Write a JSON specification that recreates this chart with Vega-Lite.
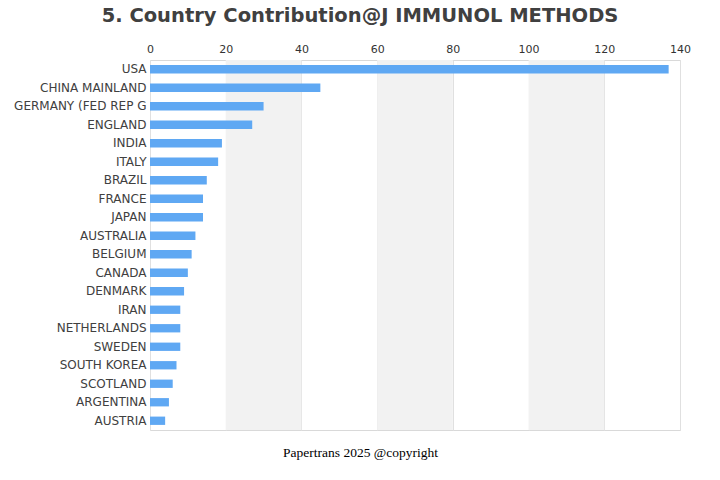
{
  "$schema": "https://vega.github.io/schema/vega-lite/v6.json",
  "autosize": "none",
  "width": 530,
  "height": 370,
  "padding": {"left": 150, "top": 60, "right": 40, "bottom": 50},
  "background": "white",
  "title": {
    "text": "5. Country Contribution@J IMMUNOL METHODS",
    "anchor": "middle",
    "dx": -55,
    "offset": 17,
    "fontSize": 19.5,
    "fontWeight": "bold",
    "font": "DejaVu Sans",
    "color": "#404040"
  },
  "resolve": {"axis": {"x": "independent"}},
  "layer": [
    {
      "description": "shaded bands",
      "data": {
        "values": [
          {"start": 20, "end": 40},
          {"start": 60, "end": 80},
          {"start": 100, "end": 120}
        ]
      },
      "mark": {"type": "rect", "color": "#f2f2f2"},
      "encoding": {
        "x": {
          "field": "start",
          "type": "quantitative",
          "scale": {"domain": [0, 140], "nice": false},
          "axis": {
            "orient": "bottom",
            "title": "Papertrans 2025 @copyright",
            "titleFont": "Liberation Serif",
            "titleFontWeight": "normal",
            "titleFontSize": 13.5,
            "titleColor": "#000000",
            "titlePadding": 15,
            "titleX": 210,
            "titleAlign": "center",
            "labels": false,
            "ticks": false,
            "domain": false,
            "grid": false
          }
        },
        "x2": {"field": "end"}
      }
    },
    {
      "description": "bars",
      "data": {
        "values": [
          {"country": "USA", "count": 137},
          {"country": "CHINA MAINLAND", "count": 45},
          {"country": "GERMANY (FED REP G", "count": 30},
          {"country": "ENGLAND", "count": 27},
          {"country": "INDIA", "count": 19},
          {"country": "ITALY", "count": 18},
          {"country": "BRAZIL", "count": 15},
          {"country": "FRANCE", "count": 14},
          {"country": "JAPAN", "count": 14},
          {"country": "AUSTRALIA", "count": 12},
          {"country": "BELGIUM", "count": 11},
          {"country": "CANADA", "count": 10},
          {"country": "DENMARK", "count": 9},
          {"country": "IRAN", "count": 8},
          {"country": "NETHERLANDS", "count": 8},
          {"country": "SWEDEN", "count": 8},
          {"country": "SOUTH KOREA", "count": 7},
          {"country": "SCOTLAND", "count": 6},
          {"country": "ARGENTINA", "count": 5},
          {"country": "AUSTRIA", "count": 4}
        ]
      },
      "mark": {"type": "bar", "color": "#5fa8f3", "height": {"band": 0.45}},
      "encoding": {
        "x": {
          "field": "count",
          "type": "quantitative",
          "scale": {"domain": [0, 140], "nice": false},
          "axis": {
            "orient": "top",
            "title": null,
            "values": [0, 20, 40, 60, 80, 100, 120, 140],
            "grid": true,
            "gridColor": "#e0e0e0",
            "ticks": false,
            "domain": false,
            "labelFlush": false,
            "labelPadding": 6,
            "labelFontSize": 11,
            "labelColor": "#333333",
            "labelFont": "DejaVu Sans"
          }
        },
        "y": {
          "field": "country",
          "type": "nominal",
          "sort": null,
          "scale": {"paddingInner": 0, "paddingOuter": 0},
          "axis": {
            "title": null,
            "ticks": false,
            "domain": false,
            "labelPadding": 4,
            "labelFontSize": 12,
            "labelColor": "#404040",
            "labelFont": "DejaVu Sans",
            "labelLimit": 200
          }
        }
      }
    }
  ],
  "config": {
    "view": {"stroke": "#d9d9d9"}
  }
}
